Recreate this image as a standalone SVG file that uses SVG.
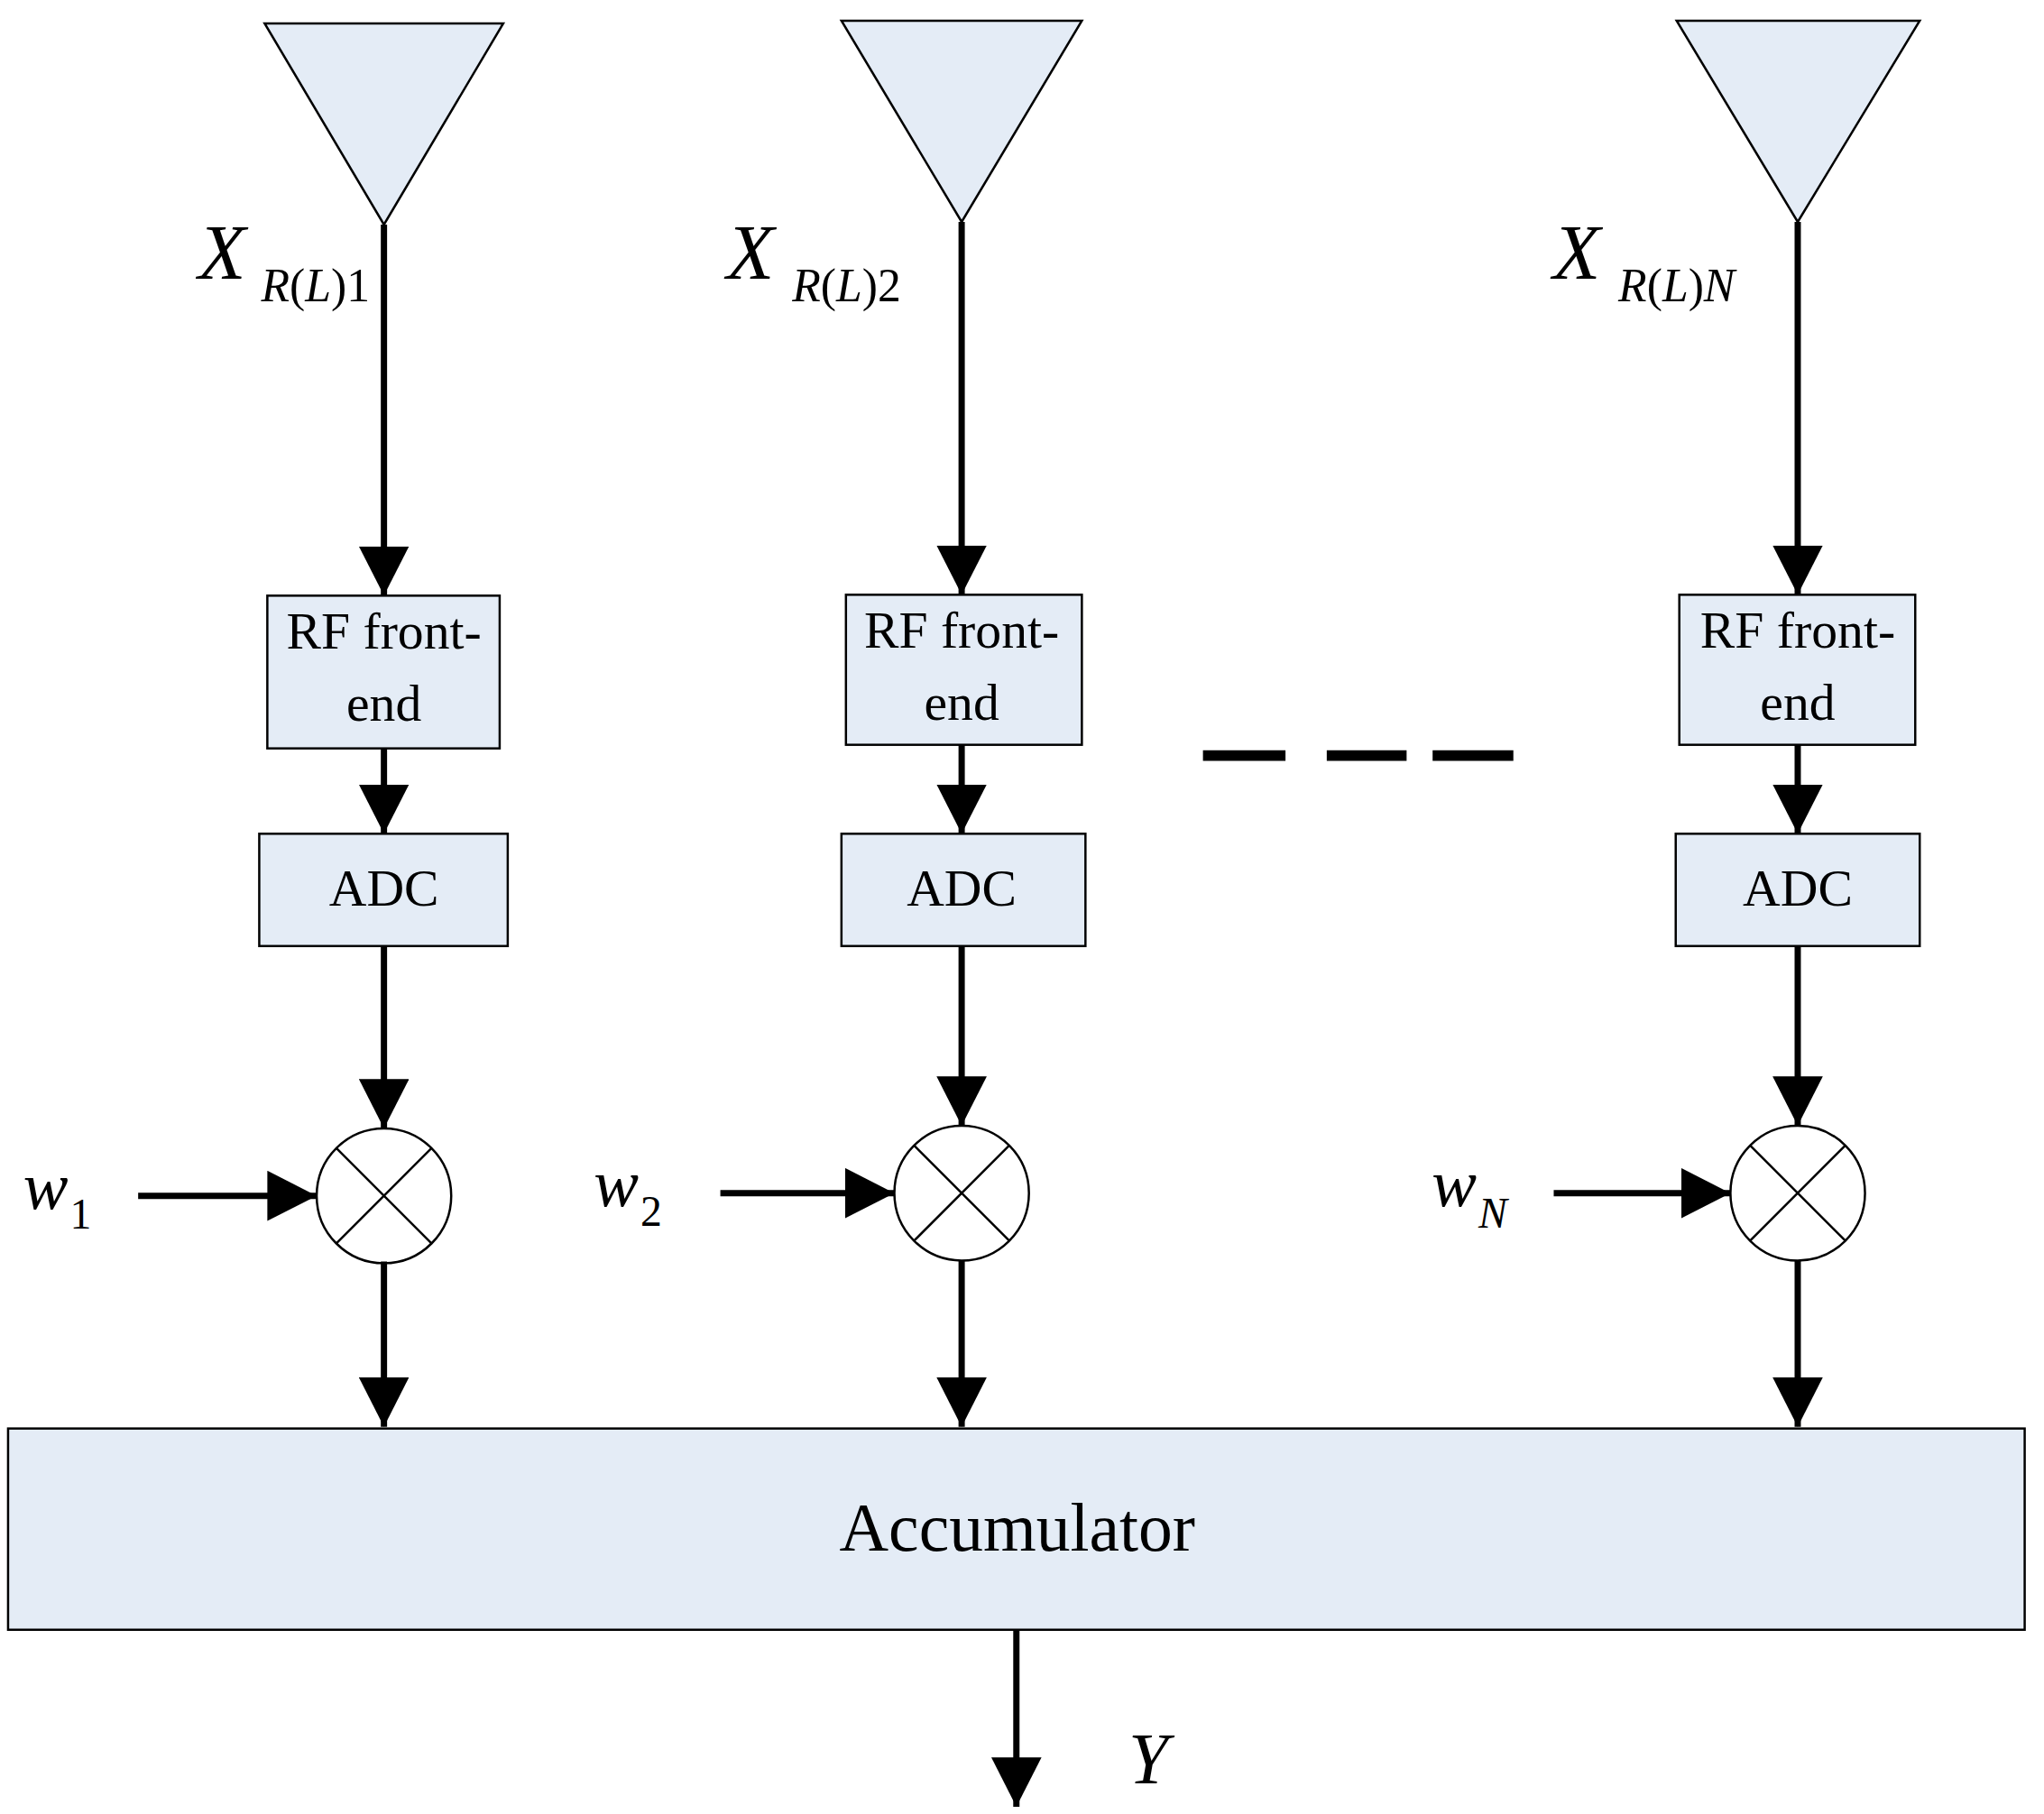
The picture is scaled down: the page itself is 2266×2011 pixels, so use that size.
<svg xmlns="http://www.w3.org/2000/svg" width="2266" height="2011" viewBox="0 0 2266 2011">
<style>
.f{fill:#e4ecf6;stroke:#000;stroke-width:2.5}
.c{fill:#fff;stroke:#000;stroke-width:2.5}
.t{font-family:"Liberation Serif",serif;fill:#000}
.l{stroke:#000;stroke-width:7;fill:none}
.i{font-style:italic}
.n{font-style:normal}
</style>
<defs>
<marker id="a" markerUnits="userSpaceOnUse" markerWidth="60" markerHeight="56" refX="55" refY="28" orient="auto"><path d="M0,0L55,28L0,56Z" fill="#000"/></marker>
</defs>
<rect width="2266" height="2011" fill="#fff"/>
<g transform="scale(0.9945 0.996)">
<g id="ant1"><path class="f" d="M295,26H561L428,250Z"/></g>
<g id="ant2"><path class="f" d="M938,23H1206L1072,247Z"/></g>
<g id="ant3"><path class="f" d="M1869,23H2140L2004,247Z"/></g>
<g id="rf1"><rect class="f" x="298" y="663" width="259" height="170"/><text class="t" font-size="58" x="428" y="722" text-anchor="middle">RF front-</text><text class="t" font-size="58" x="428" y="802" text-anchor="middle">end</text></g>
<g id="rf2"><rect class="f" x="943" y="662" width="263" height="167"/><text class="t" font-size="58" x="1072" y="721" text-anchor="middle">RF front-</text><text class="t" font-size="58" x="1072" y="801" text-anchor="middle">end</text></g>
<g id="rf3"><rect class="f" x="1872" y="662" width="263" height="167"/><text class="t" font-size="58" x="2004" y="721" text-anchor="middle">RF front-</text><text class="t" font-size="58" x="2004" y="801" text-anchor="middle">end</text></g>
<g id="adc1"><rect class="f" x="289" y="928" width="277" height="125"/><text class="t" font-size="58" x="428" y="1008" text-anchor="middle">ADC</text></g>
<g id="adc2"><rect class="f" x="938" y="928" width="272" height="125"/><text class="t" font-size="58" x="1072" y="1008" text-anchor="middle">ADC</text></g>
<g id="adc3"><rect class="f" x="1868" y="928" width="272" height="125"/><text class="t" font-size="58" x="2004" y="1008" text-anchor="middle">ADC</text></g>
<g id="mul1"><circle class="c" cx="428" cy="1331" r="75"/><path class="c" d="M375,1278L481,1384M481,1278L375,1384"/></g>
<g id="mul2"><circle class="c" cx="1072" cy="1328" r="75"/><path class="c" d="M1019,1275L1125,1381M1125,1275L1019,1381"/></g>
<g id="mul3"><circle class="c" cx="2004" cy="1328" r="75"/><path class="c" d="M1951,1275L2057,1381M2057,1275L1951,1381"/></g>
<g id="acc"><rect class="f" x="9" y="1590" width="2248" height="224"/><text class="t" font-size="76" x="1134" y="1726" text-anchor="middle">Accumulator</text></g>
<g id="labels" class="t i">
<text font-size="87" x="221" y="310">X</text><text font-size="52" x="291" y="335">R<tspan class="n">(</tspan>L<tspan class="n">)1</tspan></text>
<text font-size="87" x="810" y="310">X</text><text font-size="52" x="883" y="335">R<tspan class="n">(</tspan>L<tspan class="n">)2</tspan></text>
<text font-size="87" x="1731" y="310">X</text><text font-size="52" x="1804" y="335">R<tspan class="n">(</tspan>L<tspan class="n">)</tspan>N</text>
<text font-size="75" x="26" y="1345">w</text><text font-size="48" x="78" y="1367" class="n">1</text>
<text font-size="75" x="662" y="1342">w</text><text font-size="48" x="714" y="1364" class="n">2</text>
<text font-size="75" x="1596" y="1342">w</text><text font-size="48" x="1648" y="1366">N</text>
<text font-size="80" x="1258" y="1985">Y</text>
</g>
<g id="connectors" class="l">
<path d="M428,250V663" marker-end="url(#a)"/>
<path d="M1072,247V662" marker-end="url(#a)"/>
<path d="M2004,247V662" marker-end="url(#a)"/>
<path d="M428,833V928" marker-end="url(#a)"/>
<path d="M1072,829V928" marker-end="url(#a)"/>
<path d="M2004,829V928" marker-end="url(#a)"/>
<path d="M428,1053V1256" marker-end="url(#a)"/>
<path d="M1072,1053V1253" marker-end="url(#a)"/>
<path d="M2004,1053V1253" marker-end="url(#a)"/>
<path d="M154,1331H353" marker-end="url(#a)"/>
<path d="M803,1328H997" marker-end="url(#a)"/>
<path d="M1732,1328H1929" marker-end="url(#a)"/>
<path d="M428,1404V1588" marker-end="url(#a)"/>
<path d="M1072,1403V1588" marker-end="url(#a)"/>
<path d="M2004,1403V1588" marker-end="url(#a)"/>
<path d="M1133,1814V2011" marker-end="url(#a)"/>
<path d="M1341,841H1433M1479,841H1568M1597,841H1687" stroke-width="12"/>
</g>
</g>
</svg>
